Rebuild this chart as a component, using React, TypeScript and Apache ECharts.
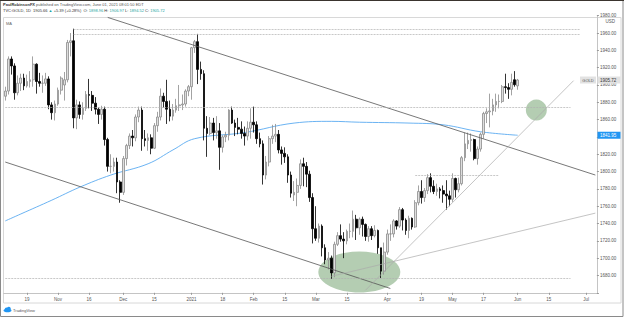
import React, { useEffect, useRef } from "react";
import * as echarts from "echarts";

// [day, open, high, low, close]
const oct2020 = [
  [8, 1887, 1898, 1882, 1893], [9, 1893, 1933, 1889, 1930], [12, 1930, 1933, 1912, 1922],
  [13, 1922, 1925, 1883, 1891], [14, 1891, 1911, 1888, 1902], [15, 1902, 1913, 1893, 1908],
  [16, 1908, 1913, 1894, 1899], [19, 1899, 1912, 1897, 1904], [20, 1904, 1916, 1897, 1906],
  [21, 1906, 1933, 1898, 1924], [22, 1924, 1925, 1890, 1904], [23, 1904, 1914, 1898, 1902],
  [26, 1902, 1911, 1891, 1902], [27, 1902, 1914, 1899, 1907], [28, 1907, 1910, 1872, 1877],
  [29, 1877, 1880, 1860, 1868], [30, 1868, 1882, 1859, 1878],
];
const nov2020 = [
  [2, 1878, 1897, 1876, 1894], [3, 1894, 1910, 1889, 1908], [4, 1900, 1915, 1882, 1906],
  [5, 1906, 1952, 1903, 1949], [6, 1949, 1960, 1933, 1951], [9, 1951, 1965, 1850, 1862],
  [10, 1862, 1883, 1849, 1877], [11, 1877, 1881, 1861, 1866], [12, 1866, 1880, 1860, 1873],
  [13, 1873, 1893, 1870, 1889], [16, 1889, 1907, 1873, 1888], [17, 1888, 1893, 1870, 1879],
  [18, 1879, 1886, 1866, 1872], [19, 1872, 1874, 1855, 1866], [20, 1866, 1876, 1860, 1872],
  [23, 1872, 1875, 1830, 1837], [24, 1837, 1839, 1800, 1806], [25, 1806, 1820, 1798, 1806],
  [26, 1806, 1816, 1800, 1811], [27, 1811, 1816, 1775, 1788], [30, 1788, 1790, 1764, 1776],
];
const dec2020 = [
  [1, 1776, 1818, 1773, 1815], [2, 1815, 1832, 1807, 1830], [3, 1830, 1844, 1826, 1841],
  [4, 1841, 1848, 1829, 1839], [7, 1839, 1866, 1835, 1863], [8, 1863, 1875, 1857, 1871],
  [9, 1871, 1875, 1824, 1838], [10, 1838, 1848, 1829, 1836], [11, 1836, 1844, 1824, 1839],
  [14, 1839, 1843, 1820, 1827], [15, 1827, 1856, 1826, 1853], [16, 1853, 1869, 1846, 1863],
  [17, 1863, 1896, 1859, 1887], [18, 1887, 1891, 1874, 1881], [21, 1881, 1906, 1855, 1872],
  [22, 1872, 1882, 1858, 1864], [23, 1864, 1878, 1859, 1871], [24, 1871, 1884, 1868, 1876],
  [28, 1876, 1900, 1870, 1877], [29, 1877, 1889, 1871, 1878], [30, 1878, 1895, 1875, 1893],
  [31, 1893, 1900, 1887, 1898],
];
const jan2021 = [
  [4, 1898, 1944, 1883, 1943], [5, 1943, 1952, 1937, 1950], [6, 1950, 1959, 1901, 1918],
  [7, 1918, 1927, 1906, 1913], [8, 1913, 1917, 1836, 1850], [11, 1850, 1864, 1817, 1844],
  [12, 1844, 1863, 1842, 1856], [13, 1856, 1862, 1836, 1845], [14, 1845, 1864, 1838, 1847],
  [15, 1847, 1856, 1802, 1828], [18, 1828, 1842, 1822, 1840], [19, 1840, 1846, 1834, 1842],
  [20, 1842, 1872, 1836, 1871], [21, 1871, 1875, 1855, 1856], [22, 1856, 1860, 1841, 1851],
  [25, 1851, 1862, 1843, 1849], [26, 1849, 1858, 1838, 1844], [27, 1844, 1852, 1830, 1841],
  [28, 1841, 1858, 1836, 1850], [29, 1850, 1873, 1838, 1857],
];
const feb2021 = [
  [1, 1857, 1875, 1845, 1854], [2, 1854, 1858, 1832, 1838], [3, 1838, 1845, 1828, 1832],
  [4, 1832, 1836, 1785, 1796], [5, 1796, 1818, 1791, 1811], [8, 1811, 1841, 1806, 1838],
  [9, 1838, 1854, 1832, 1841], [10, 1841, 1855, 1834, 1843], [11, 1843, 1848, 1821, 1825],
  [12, 1825, 1829, 1808, 1821], [15, 1821, 1828, 1810, 1817], [16, 1817, 1820, 1787, 1796],
  [17, 1796, 1800, 1770, 1775], [18, 1773, 1789, 1766, 1776], [19, 1776, 1792, 1760, 1784],
  [22, 1784, 1814, 1780, 1809], [23, 1809, 1816, 1783, 1806], [24, 1806, 1811, 1782, 1797],
  [25, 1797, 1801, 1765, 1770], [26, 1770, 1775, 1717, 1734],
];
const mar2021 = [
  [1, 1734, 1760, 1720, 1723], [2, 1723, 1740, 1718, 1737], [3, 1737, 1739, 1702, 1712],
  [4, 1712, 1716, 1693, 1698], [5, 1698, 1707, 1687, 1700], [8, 1700, 1703, 1676, 1683],
  [9, 1683, 1719, 1678, 1716], [10, 1716, 1730, 1714, 1726], [11, 1726, 1739, 1719, 1722],
  [12, 1722, 1730, 1700, 1720], [15, 1720, 1733, 1716, 1731], [16, 1731, 1740, 1723, 1731],
  [17, 1731, 1755, 1724, 1745], [18, 1745, 1750, 1721, 1735], [19, 1735, 1747, 1727, 1745],
  [22, 1745, 1748, 1725, 1739], [23, 1739, 1740, 1720, 1725], [24, 1725, 1737, 1719, 1734],
  [25, 1734, 1737, 1721, 1726], [26, 1726, 1738, 1724, 1732], [29, 1732, 1733, 1705, 1712],
  [30, 1712, 1712, 1677, 1685], [31, 1685, 1718, 1681, 1707],
];
const apr2021 = [
  [1, 1707, 1733, 1704, 1728], [5, 1728, 1739, 1720, 1728], [6, 1728, 1745, 1724, 1743],
  [7, 1743, 1744, 1733, 1737], [8, 1737, 1759, 1735, 1756], [9, 1756, 1758, 1732, 1744],
  [12, 1744, 1746, 1727, 1732], [13, 1732, 1749, 1723, 1746], [14, 1746, 1747, 1733, 1736],
  [15, 1736, 1767, 1735, 1764], [16, 1764, 1784, 1761, 1777], [19, 1777, 1790, 1763, 1770],
  [20, 1770, 1781, 1765, 1778], [21, 1778, 1797, 1774, 1793], [22, 1793, 1798, 1776, 1783],
  [23, 1783, 1790, 1774, 1777], [26, 1777, 1786, 1772, 1780], [27, 1780, 1782, 1769, 1778],
  [28, 1778, 1784, 1764, 1774], [29, 1774, 1790, 1756, 1772], [30, 1772, 1778, 1760, 1768],
];
const may2021 = [
  [3, 1768, 1798, 1765, 1792], [4, 1792, 1793, 1770, 1779], [5, 1779, 1793, 1776, 1786],
  [6, 1786, 1818, 1784, 1816], [7, 1816, 1845, 1812, 1832], [10, 1832, 1845, 1826, 1836],
  [11, 1836, 1844, 1823, 1837], [12, 1837, 1838, 1813, 1815], [13, 1815, 1829, 1808, 1826],
  [14, 1826, 1845, 1823, 1843], [17, 1843, 1869, 1838, 1867], [18, 1867, 1873, 1856, 1869],
  [19, 1869, 1890, 1851, 1870], [20, 1870, 1884, 1865, 1877], [21, 1877, 1890, 1869, 1881],
  [24, 1881, 1889, 1873, 1881], [25, 1881, 1900, 1879, 1898], [26, 1898, 1913, 1890, 1897],
  [27, 1897, 1902, 1884, 1895], [28, 1895, 1913, 1888, 1903], [31, 1906, 1916, 1898, 1900.33],
];
const jun2021 = [[1, 1898.96, 1906.97, 1894.52, 1905.72]];

const futureDates = [
  "2021-06-02", "2021-06-03", "2021-06-04", "2021-06-07", "2021-06-08", "2021-06-09",
  "2021-06-10", "2021-06-11", "2021-06-14", "2021-06-15", "2021-06-16", "2021-06-17",
  "2021-06-18", "2021-06-21", "2021-06-22", "2021-06-23", "2021-06-24", "2021-06-25",
  "2021-06-28", "2021-06-29", "2021-06-30", "2021-07-01", "2021-07-02", "2021-07-05",
  "2021-07-06",
];

const tickDates = [
  "2020-10-19", "2020-11-02", "2020-11-16", "2020-12-01", "2020-12-15", "2021-01-04",
  "2021-01-18", "2021-02-01", "2021-02-15", "2021-03-01", "2021-03-15", "2021-04-01",
  "2021-04-19", "2021-05-03", "2021-05-17", "2021-06-01", "2021-06-15", "2021-07-01",
];
const tickLabels = [
  "19", "Nov", "16", "Dec", "15", "2021", "18", "Feb", "15", "Mar", "15", "Apr",
  "19", "May", "17", "Jun", "15", "Jul",
];
// price-axis ticks hidden behind the price tags in the reference
const hiddenPriceTicks = [1660, 1840];

// 200-day moving average, read at several dates
const maPoints: [string, number][] = [
  ["2020-10-08", 1743], ["2020-10-15", 1751], ["2020-10-29", 1767], ["2020-11-11", 1782],
  ["2020-11-25", 1796], ["2020-12-11", 1809], ["2020-12-23", 1825], ["2021-01-05", 1838],
  ["2021-01-27", 1845], ["2021-02-18", 1856], ["2021-03-08", 1858], ["2021-03-19", 1857],
  ["2021-04-13", 1856], ["2021-04-28", 1854], ["2021-05-14", 1846], ["2021-06-01", 1841.95],
];

// trend lines: [startDate, startPrice, endDate, endPrice]
const trendLines: [string, number, string, number][] = [
  ["2020-11-24", 1978, "2021-07-06", 1796],
  ["2020-10-08", 1811, "2021-04-05", 1665],
  ["2021-03-23", 1663, "2021-06-25", 1905],
  ["2021-03-08", 1679, "2021-07-06", 1752],
];
// horizontal levels: [startDate, endDate, price]
const levels: [string, string, number][] = [
  ["2020-11-09", "2021-06-29", 1964],
  ["2020-11-09", "2021-06-29", 1959],
  ["2020-10-08", "2021-06-24", 1874],
  ["2021-04-15", "2021-05-24", 1796],
  ["2020-10-08", "2021-06-24", 1677],
];

const lastClose = 1905.72;
const lastMA = 1841.95;

const FONT = "'Liberation Sans', Arial, sans-serif";

const monthTables: [string, number[][]][] = [
  ["2020-10", oct2020], ["2020-11", nov2020], ["2020-12", dec2020], ["2021-01", jan2021],
  ["2021-02", feb2021], ["2021-03", mar2021], ["2021-04", apr2021], ["2021-05", may2021],
  ["2021-06", jun2021],
];

export default function App() {
  const ref = useRef<HTMLDivElement>(null);
  useEffect(() => {
    if (!ref.current) return;
    const candleDates: string[] = [];
    const candleValues: number[][] = [];
    monthTables.forEach(([ym, rows]) =>
      rows.forEach(([d, o, h, l, c]) => {
        candleDates.push(`${ym}-${String(d).padStart(2, "0")}`);
        candleValues.push([o, c, l, h]);
      })
    );
    const categories = candleDates.concat(futureDates);
    const labelOf: Record<string, string> = {};
    tickDates.forEach((d, i) => (labelOf[d] = tickLabels[i]));
    const isTick = (_i: number, v: string) => labelOf[v] !== undefined;

    const chart = echarts.init(ref.current, null, { renderer: "svg" });
    const markData: any[] = [];
    trendLines.forEach(([d1, p1, d2, p2], k) => {
      const strong = k < 2;
      markData.push([
        { coord: [d1, p1], lineStyle: { color: strong ? "#555" : "#aaa", width: strong ? 0.8 : 0.7, type: "solid" } },
        { coord: [d2, p2] },
      ]);
    });
    levels.forEach(([d1, d2, p]) => {
      markData.push([
        { coord: [d1, p], lineStyle: { color: "#b0b0b0", width: 0.7, type: [2, 1] } },
        { coord: [d2, p] },
      ]);
    });

    chart.setOption({
      animation: false,
      backgroundColor: "#ffffff",
      textStyle: { fontFamily: FONT },
      grid: { left: 3.7, right: 27.1, top: 15.7, bottom: 25.2, containLabel: false },
      xAxis: {
        type: "category",
        data: categories,
        boundaryGap: true,
        axisLine: { lineStyle: { color: "#c4c4c4", width: 1 } },
        axisTick: { show: true, length: 2, interval: isTick, alignWithLabel: true, lineStyle: { color: "#999" } },
        axisLabel: {
          interval: isTick,
          formatter: (v: string) => labelOf[v] ?? "",
          fontSize: 4.5,
          color: "#555",
          margin: 4,
          fontFamily: FONT,
        },
        splitLine: { show: false },
      },
      yAxis: {
        type: "value",
        position: "right",
        min: 1660,
        max: 1980,
        interval: 20,
        axisLine: { show: true, lineStyle: { color: "#c4c4c4" } },
        axisTick: { show: true, length: 2, lineStyle: { color: "#999" } },
        axisLabel: {
          fontSize: 4.5,
          color: "#555",
          margin: 3,
          fontFamily: FONT,
          formatter: (v: number) => (hiddenPriceTicks.includes(v) ? "" : v.toFixed(2)),
        },
        splitLine: { show: false },
      },
      series: [
        {
          type: "line",
          data: maPoints,
          smooth: 0.4,
          showSymbol: false,
          symbol: "none",
          lineStyle: { color: "#5aaaf0", width: 0.9 },
          z: 3,
          silent: true,
        },
        {
          type: "candlestick",
          data: candleValues,
          barWidth: 2.2,
          itemStyle: {
            color: "#dedede",
            color0: "#000000",
            borderColor: "#8c8c8c",
            borderColor0: "#000000",
            borderWidth: 0.8,
          },
          z: 4,
          markLine: {
            silent: true,
            symbol: ["none", "none"],
            label: { show: false },
            data: markData,
          },
        },
      ],
    });

    const px = (d: string, p: number) =>
      chart.convertToPixel({ xAxisIndex: 0, yAxisIndex: 0 }, [categories.indexOf(d), p]) as number[];
    const ell = px("2021-03-19", 1684);
    const circ = px("2021-06-09", 1871);
    const yG = chart.convertToPixel({ yAxisIndex: 0 }, lastClose) as number;
    const yM = chart.convertToPixel({ yAxisIndex: 0 }, lastMA) as number;

    chart.setOption({
      graphic: [
        { type: "ellipse", shape: { cx: ell[0], cy: ell[1], rx: 41, ry: 20.5 }, style: { fill: "#b4cdb2" }, z: -1 },
        { type: "circle", shape: { cx: circ[0], cy: circ[1], r: 10.5 }, style: { fill: "#b4cdb2" }, z: -1 },
        { type: "rect", shape: { x: 3.5, y: 17.5, width: 617.5, height: 285.5 }, style: { fill: "none", stroke: "#d8d8d8", lineWidth: 1 }, z: -2 },
        { type: "rect", shape: { x: 0.5, y: 0.5, width: 622.5, height: 316 }, style: { fill: "none", stroke: "#8a8a8a", lineWidth: 1 }, z: 50 },
        { type: "line", shape: { x1: 0, y1: 0.5, x2: 624, y2: 0.5 }, style: { stroke: "#3a342e", lineWidth: 1 }, z: 51 },
        {
          type: "text", x: 3, y: 2.5, z: 60,
          style: {
            text: "{b|PaulRobinsonFX} published on TradingView.com, June 01, 2021 08:01:50 EDT",
            fontSize: 4, fill: "#555", fontFamily: FONT,
            rich: { b: { fontWeight: "bold", fill: "#333", fontSize: 4, fontFamily: FONT } },
          },
        },
        {
          type: "text", x: 3, y: 8.5, z: 60,
          style: {
            text: "{d|TVC:GOLD, 1D  1905.66} {t|▲} {d|+5.39 (+0.28%)  O:} {t|1898.96} {d|H:} {t|1906.97} {d|L:} {t|1894.52} {d|C:} {t|1905.72}",
            fontSize: 4, fill: "#333", fontFamily: FONT,
            rich: {
              d: { fill: "#333", fontSize: 4, fontFamily: FONT },
              t: { fill: "#1ea4a0", fontSize: 4, fontFamily: FONT },
            },
          },
        },
        { type: "text", x: 6, y: 21, z: 60, style: { text: "MA", fontSize: 4, fill: "#666", fontFamily: FONT } },
        { type: "text", x: 605.5, y: 18.5, z: 60, style: { text: "USD", fontSize: 4.5, fill: "#555", fontFamily: FONT } },
        { type: "rect", shape: { x: 580, y: yG - 3.5, width: 16, height: 7 }, style: { fill: "#e2e2e2" }, z: 70 },
        { type: "text", x: 588, y: yG, z: 71, style: { text: "GOLD", fontSize: 4, fill: "#555", align: "center", verticalAlign: "middle", fontFamily: FONT } },
        { type: "rect", shape: { x: 597.5, y: yG - 3.5, width: 23, height: 7 }, style: { fill: "#e2e2e2" }, z: 70 },
        { type: "text", x: 600, y: yG, z: 71, style: { text: lastClose.toFixed(2), fontSize: 4.5, fill: "#333", verticalAlign: "middle", fontFamily: FONT } },
        { type: "rect", shape: { x: 597.5, y: yM - 3.5, width: 23, height: 7 }, style: { fill: "#2196f3" }, z: 70 },
        { type: "text", x: 600, y: yM, z: 71, style: { text: lastMA.toFixed(2), fontSize: 4.5, fill: "#ffffff", verticalAlign: "middle", fontFamily: FONT } },
        { type: "ellipse", shape: { cx: 7.5, cy: 310.5, rx: 4, ry: 1.8 }, style: { fill: "#2196f3" }, z: 60 },
        { type: "circle", shape: { cx: 6.5, cy: 309.2, r: 1.8 }, style: { fill: "#2196f3" }, z: 60 },
        { type: "circle", shape: { cx: 8.8, cy: 308.8, r: 2 }, style: { fill: "#2196f3" }, z: 60 },
        { type: "text", x: 13, y: 308.5, z: 60, style: { text: "TradingView", fontSize: 4, fill: "#555", fontFamily: FONT } },
      ],
    });
    return () => chart.dispose();
  }, []);
  return (
    <div style={{ position: "fixed", left: 0, top: 0, width: 624, height: 318, background: "#fff" }}>
      <div ref={ref} style={{ width: 624, height: 318 }} />
    </div>
  );
}
